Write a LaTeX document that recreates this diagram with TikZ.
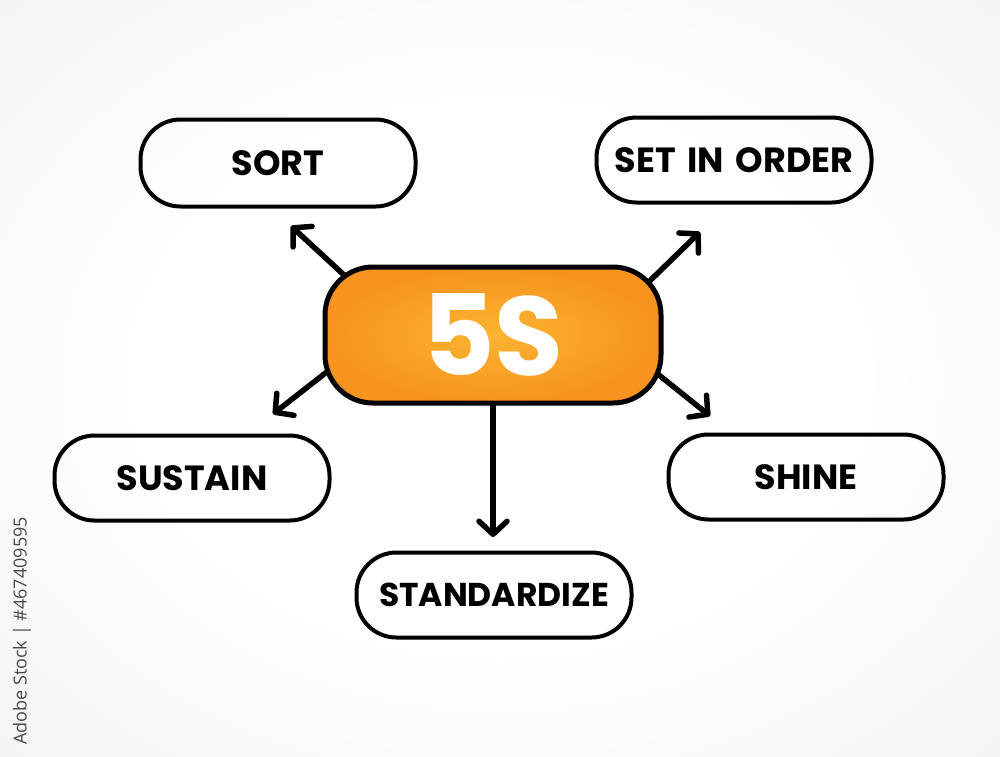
\documentclass[tikz,border=0pt]{standalone}
\usepackage{fontspec}
\setmainfont{Poppins}
\newfontfamily\wmfont{Open Sans}
\usetikzlibrary{arrows.meta,calc}
\pgfdeclarelayer{back}
\pgfdeclarelayer{arrowlayer}
\pgfsetlayers{back,arrowlayer,main}
\definecolor{orangeA}{HTML}{FCB431}
\definecolor{orangeB}{HTML}{F7931E}
\definecolor{wmgray}{HTML}{484848}
\pgfdeclareradialshading{bgshade}{\pgfpoint{0bp}{0bp}}{color(0bp)=(white);color(18bp)=(white);color(50bp)=(black!8);color(72bp)=(black!11)}
\begin{document}
\begin{tikzpicture}[x=1pt,y=-1pt,
  leaf/.style={draw=black, line width=4pt, rounded corners=40pt,
    minimum width=275pt, minimum height=85pt, inner sep=0pt,
    font=\fontsize{35}{35}\selectfont\bfseries, text=black},
  hub/.style={draw=black, line width=5pt, rounded corners=48pt,
    inner color=orangeA, outer color=orangeB,
    minimum width=336pt, minimum height=136pt, inner sep=0pt,
    text=white, font=\fontsize{112}{112}\selectfont\bfseries},
  arr/.style={line width=5.5pt, line cap=round,
    -{Straight Barb[length=13pt,width=28pt,round]}}]
\useasboundingbox (0,0) rectangle (1000,756);
\begin{pgfonlayer}{back}
  \shade[shading=bgshade] (0,0) rectangle (1000,756);
\end{pgfonlayer}

\node[hub] (hub) at (493,335) {5S};

\node[leaf, minimum height=87pt] (sort) at (278,163) {SORT};
\node[leaf] (set) at (734,160) {SET\hspace{0.12em} IN\hspace{0.12em} ORDER};
\node[leaf] (sus) at (192,478) {SUSTAIN};
\node[leaf] (shi) at (806,477) {SHINE};
\node[leaf, font=\fontsize{33}{33}\selectfont\bfseries] (std) at (494,595) {STANDARDIZE};

\coordinate (tsort) at (291,226);
\coordinate (tset) at (700,232);
\coordinate (tsus) at (273,414);
\coordinate (tshi) at (710,416);
\coordinate (tstd) at (493,537);

\begin{pgfonlayer}{arrowlayer}
  \draw[arr] ($(hub.north west)+(47,34)$) -- (tsort);
  \draw[arr] ($(hub.north east)+(-41,43)$) -- (tset);
  \draw[arr] ($(hub.south west)+(33,-56)$) -- (tsus);
  \draw[arr] ($(hub.south east)+(-35,-55)$) -- (tshi);
  \draw[arr] (hub) -- (tstd);
\end{pgfonlayer}

\node[rotate=90, anchor=west, inner sep=0pt, text=wmgray,
  font=\wmfont\fontsize{18}{18}\selectfont] (wm) at (22,745) {Adobe Stock | \#467409595};
\end{tikzpicture}
\end{document}
